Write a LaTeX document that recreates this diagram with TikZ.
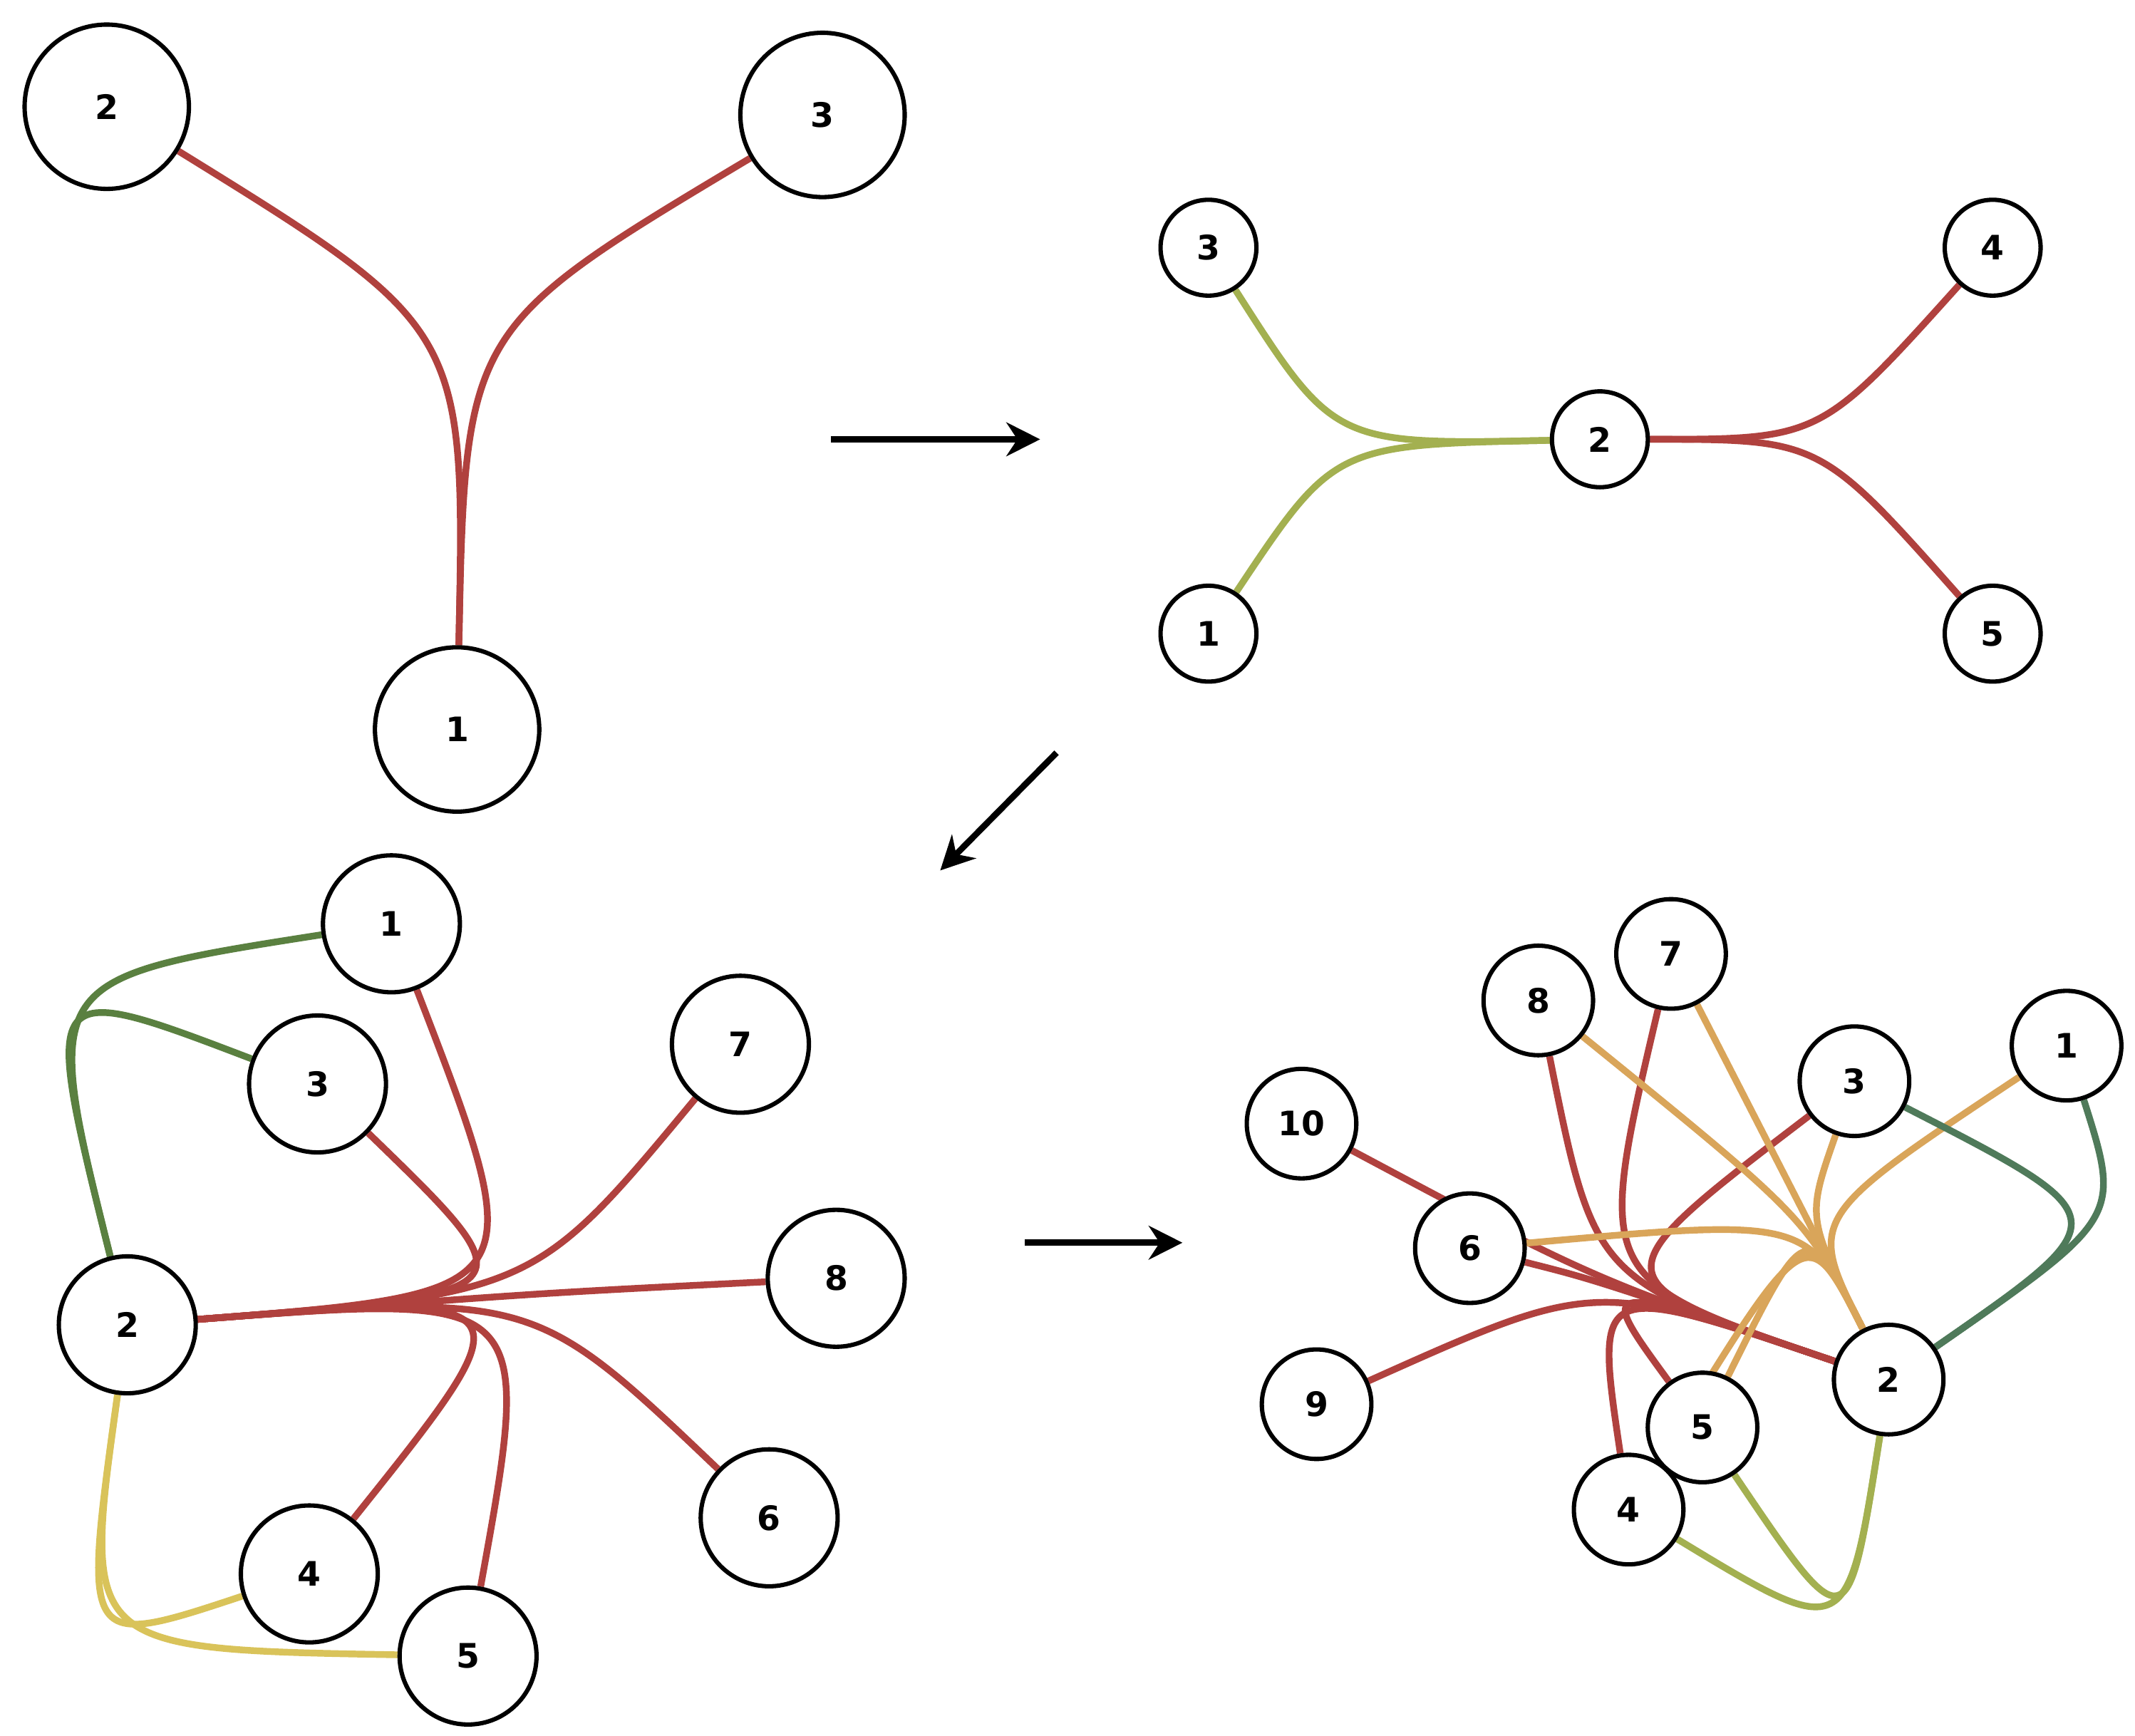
\documentclass[tikz,border=0pt]{standalone}
\usepackage{fontspec}
\setmainfont{DejaVu Sans}
\usetikzlibrary{backgrounds,arrows.meta}
\begin{document}
\begin{tikzpicture}[x=0.01cm,y=-0.01cm,
  nd/.style={circle,draw=black,fill=white,line width=0.9pt,inner sep=0pt,font=\bfseries\scriptsize},
  big/.style={nd,minimum size=1.2cm},
  med/.style={nd,minimum size=1.0cm},
  sml/.style={nd,minimum size=0.7cm},
  bmr/.style={nd,minimum size=0.8cm},
  ed/.style={line width=1.4pt},
  arr/.style={line width=1.3pt,-{Stealth[length=7pt,width=7pt]}}]
\definecolor{cred}{HTML}{B0413E}
\definecolor{colive}{HTML}{A3B050}
\definecolor{cgreen}{HTML}{5A8040}
\definecolor{cyel}{HTML}{D9C35A}
\definecolor{corange}{HTML}{D9A55A}
\definecolor{cdg}{HTML}{4F7A5A}
\useasboundingbox (0,0) rectangle (1560,1268);
% top-left
\node[big] (a2) at (78,78) {2};
\node[big] (a3) at (601,84) {3};
\node[big] (a1) at (334,533) {1};
% top-right
\node[sml] (b3) at (883,181) {3};
\node[sml] (b1) at (883,463) {1};
\node[sml] (b2) at (1169,321) {2};
\node[sml] (b4) at (1456,181) {4};
\node[sml] (b5) at (1456,463) {5};
% bottom-left
\node[med] (c1) at (286,675) {1};
\node[med] (c3) at (232,792) {3};
\node[med] (c7) at (541,763) {7};
\node[med] (c2) at (93,968) {2};
\node[med] (c8) at (611,934) {8};
\node[med] (c6) at (562,1109) {6};
\node[med] (c4) at (226,1150) {4};
\node[med] (c5) at (342,1210) {5};
% bottom-right
\node[bmr] (d8) at (1124,731) {8};
\node[bmr] (d7) at (1221,697) {7};
\node[bmr] (d3) at (1355,790) {3};
\node[bmr] (d1) at (1510,764) {1};
\node[bmr] (d10) at (951,821) {10};
\node[bmr] (d6) at (1074,912) {6};
\node[bmr] (d9) at (962,1026) {9};
\node[bmr] (d2) at (1380,1008) {2};
\node[bmr] (d5) at (1244,1043) {5};
\node[bmr] (d4) at (1190,1103) {4};
% arrows
\coordinate (p1) at (607,321); \coordinate (p2) at (760,321);
\coordinate (q1) at (772,550); \coordinate (q2) at (687,636);
\coordinate (r1) at (749,908); \coordinate (r2) at (864,908);
\draw[arr] (p1) -- (p2);
\draw[arr] (q1) -- (q2);
\draw[arr] (r1) -- (r2);
\begin{pgfonlayer}{background}
\draw[ed,cred] (a2) .. controls (340,240) .. (a1);
\draw[ed,cred] (a3) .. controls (340,240) .. (a1);
\draw[ed,colive] (b3) .. controls (975,325) .. (b2);
\draw[ed,colive] (b1) .. controls (975,325) .. (b2);
\draw[ed,cred] (b4) .. controls (1330,321) .. (b2);
\draw[ed,cred] (b5) .. controls (1330,321) .. (b2);
\foreach \k in {c1,c3,c7,c8,c6,c4,c5}
  \draw[ed,cred] (\k) .. controls (390,945) .. (c2);
\draw[ed,cgreen] (c1) .. controls (30,715) .. (c2);
\draw[ed,cgreen] (c3) .. controls (30,715) .. (c2);
\draw[ed,cyel] (c4) .. controls (60,1205) .. (c2);
\draw[ed,cyel] (c5) .. controls (60,1205) .. (c2);
\foreach \k in {d10,d6,d9,d8,d7,d3,d4,d5}
  \draw[ed,cred] (\k) .. controls (1165,935) .. (d2);
\foreach \k in {d8,d7,d3,d1,d6,d5,d4}
  \draw[ed,corange] (\k) .. controls (1320,890) .. (d2);
\draw[ed,cdg] (d3) .. controls (1550,890) .. (d2);
\draw[ed,cdg] (d1) .. controls (1550,890) .. (d2);
\draw[ed,colive] (d5) .. controls (1350,1200) .. (d2);
\draw[ed,colive] (d4) .. controls (1350,1200) .. (d2);
\end{pgfonlayer}
\end{tikzpicture}
\end{document}
